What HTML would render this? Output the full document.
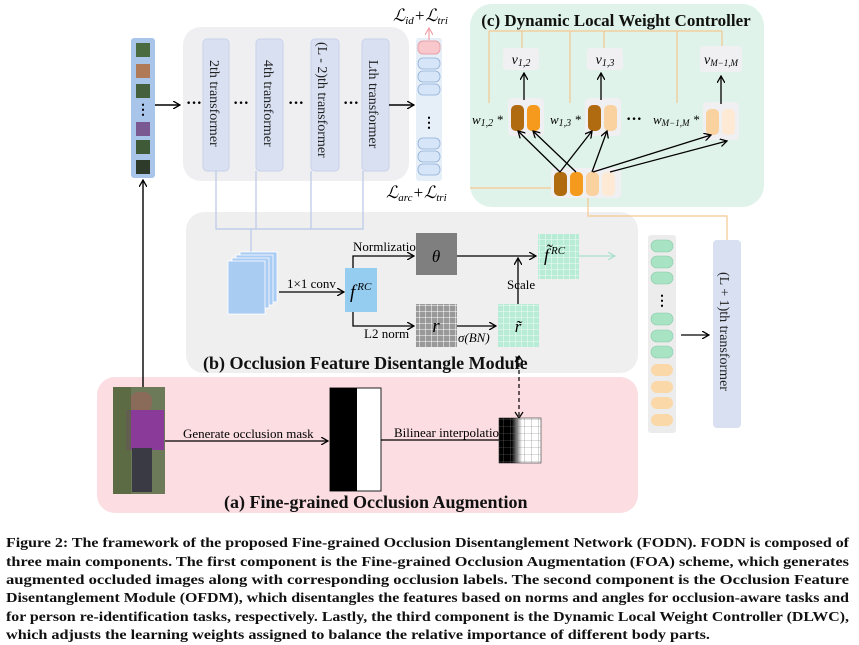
<!DOCTYPE html>
<html><head><meta charset="utf-8"><style>
html,body{margin:0;padding:0;background:#fff;width:859px;height:645px;overflow:hidden}
svg{display:block}
text{font-family:"Liberation Serif",serif}
.cap{font-weight:bold;font-size:13.5px;fill:#111}
.it{font-style:italic}
</style></head><body>
<svg width="859" height="645" viewBox="0 0 859 645" xmlns="http://www.w3.org/2000/svg">
<defs>
<marker id="a" markerWidth="8" markerHeight="8" refX="7" refY="4" orient="auto" markerUnits="userSpaceOnUse"><path d="M0,0 L7,4 L0,8" fill="none" stroke="#000" stroke-width="1.3"/></marker>
<marker id="ap" markerWidth="8" markerHeight="8" refX="7" refY="4" orient="auto" markerUnits="userSpaceOnUse"><path d="M0,0 L7,4 L0,8" fill="none" stroke="#f0a0a8" stroke-width="1.2"/></marker>
<marker id="ag" markerWidth="8" markerHeight="8" refX="7" refY="4" orient="auto" markerUnits="userSpaceOnUse"><path d="M0,0 L7,4 L0,8" fill="none" stroke="#a8e0cc" stroke-width="1.2"/></marker>
<pattern id="gg" width="6" height="6" patternUnits="userSpaceOnUse"><rect width="6" height="6" fill="#999"/><path d="M6,0V6M0,6H6" stroke="#fff" stroke-width="1"/></pattern>
<pattern id="gr" width="6" height="6" patternUnits="userSpaceOnUse"><rect width="6" height="6" fill="#b8ecd6"/><path d="M6,0V6M0,6H6" stroke="#fff" stroke-width="0.8"/></pattern>
<linearGradient id="bw" x1="0" x2="1"><stop offset="0" stop-color="#000"/><stop offset="0.3" stop-color="#000"/><stop offset="0.55" stop-color="#fff"/><stop offset="1" stop-color="#fff"/></linearGradient>
<pattern id="wg" width="7" height="7" patternUnits="userSpaceOnUse"><path d="M7,0V7M0,7H7" stroke="#777" stroke-width="0.6" fill="none"/></pattern>
</defs>

<rect x="470" y="4" width="294" height="203" rx="22" fill="#dff3ea"/>
<rect x="186" y="212" width="452" height="161" rx="18" fill="#efefef"/>
<rect x="97" y="377" width="541" height="136" rx="18" fill="#fbdde2"/>
<rect x="183" y="27" width="226" height="154" rx="18" fill="#efeff2"/>

<rect x="131" y="38" width="24" height="140" rx="3" fill="#a9c6ea"/>
<rect x="136" y="43" width="14" height="14" fill="#4a6a40"/>
<rect x="136" y="64" width="14" height="14" fill="#b07a58"/>
<rect x="136" y="84" width="14" height="14" fill="#44603c"/>
<text x="143" y="114" font-size="14" font-weight="bold" text-anchor="middle">⋮</text>
<rect x="136" y="122" width="14" height="14" fill="#7a5890"/>
<rect x="136" y="140" width="14" height="14" fill="#3e5a36"/>
<rect x="136" y="160" width="14" height="14" fill="#2e3a2a"/>
<line x1="143" y1="390" x2="143" y2="180" stroke="#000" stroke-width="1.4" marker-end="url(#a)"/>
<line x1="155" y1="105" x2="180" y2="105" stroke="#000" stroke-width="1.4" marker-end="url(#a)"/>

<g fill="#d8e0f2" stroke="#c8d2ea">
<rect x="203" y="39" width="26" height="132" rx="4"/>
<rect x="256" y="39" width="27" height="132" rx="4"/>
<rect x="311" y="39" width="28" height="132" rx="4"/>
<rect x="362" y="39" width="27" height="132" rx="4"/>
</g>
<g font-size="14" fill="#222">
<text transform="translate(210,60) rotate(90)">2th transformer</text>
<text transform="translate(264,60) rotate(90)">4th transformer</text>
<text transform="translate(318,42) rotate(90)">(L - 2)th transformer</text>
<text transform="translate(369,60) rotate(90)">Lth transformer</text>
</g>
<g font-size="16" font-weight="bold"><text x="186" y="108">···</text><text x="233" y="108">···</text><text x="288" y="108">···</text><text x="343" y="108">···</text></g>
<line x1="389" y1="105" x2="414" y2="105" stroke="#000" stroke-width="1.4" marker-end="url(#a)"/>
<g stroke="#b8c8e6" stroke-width="1.2" fill="none">
<path d="M216,171V229H363V171M256,171V229M311,229V171M251,229V252"/>
</g>

<rect x="416" y="38" width="26" height="143" rx="3" fill="#e6eef8"/>
<rect x="418" y="41" width="22" height="13" rx="5" fill="#f8c8cc" stroke="#e8a0a8"/>
<g fill="#d6e6f8" stroke="#8fb0d8" stroke-width="0.8">
<rect x="418" y="58" width="22" height="11" rx="5"/><rect x="418" y="71" width="22" height="11" rx="5"/><rect x="418" y="84" width="22" height="11" rx="5"/>
<rect x="418" y="138" width="22" height="11" rx="5"/><rect x="418" y="151" width="22" height="11" rx="5"/><rect x="418" y="164" width="22" height="11" rx="5"/>
</g>
<text x="429" y="127" font-size="14" font-weight="bold" text-anchor="middle">⋮</text>
<line x1="429" y1="40" x2="429" y2="28" stroke="#f0a0a8" stroke-width="1.2" marker-end="url(#ap)"/>
<text x="393" y="21" font-size="17" class="it">ℒ<tspan font-size="11" dy="3">id</tspan><tspan dy="-3">+ℒ</tspan><tspan font-size="11" dy="3">tri</tspan></text>
<text x="386" y="198" font-size="17" class="it">ℒ<tspan font-size="11" dy="3">arc</tspan><tspan dy="-3">+ℒ</tspan><tspan font-size="11" dy="3">tri</tspan></text>

<text x="616" y="26" font-size="17" font-weight="bold" text-anchor="middle" fill="#111">(c) Dynamic Local Weight Controller</text>
<g stroke="#f5c890" stroke-width="1.2" fill="none">
<path d="M489,31H722M489,31V103M522,31V48M570,31V103M604,31V48M677,31V103M722,31V48"/>
<path d="M552,188H470"/>
<path d="M588,196V216H727V240"/>
</g>
<g fill="#f0eff2">
<rect x="503" y="48" width="36" height="22" rx="3"/>
<rect x="587" y="48" width="36" height="22" rx="3"/>
<rect x="700" y="46" width="42" height="26" rx="3"/>
<rect x="508" y="98" width="36" height="38" rx="4"/>
<rect x="585" y="98" width="36" height="38" rx="4"/>
<rect x="703" y="102" width="36" height="38" rx="4"/>
<rect x="551" y="168" width="70" height="30" rx="4"/>
</g>
<g font-size="14" class="it" text-anchor="middle">
<text x="521" y="64">v<tspan font-size="10" dy="2">1,2</tspan></text>
<text x="605" y="64">v<tspan font-size="10" dy="2">1,3</tspan></text>
<text x="721" y="64">v<tspan font-size="9" dy="2">M−1,M</tspan></text>
</g>
<g font-size="13" class="it">
<text x="472" y="124">w<tspan font-size="10" dy="2">1,2</tspan><tspan dy="-2"> *</tspan></text>
<text x="550" y="124">w<tspan font-size="10" dy="2">1,3</tspan><tspan dy="-2"> *</tspan></text>
<text x="653" y="124">w<tspan font-size="9" dy="2">M−1,M</tspan><tspan dy="-2"> *</tspan></text>
</g>
<text x="626" y="124" font-size="16" font-weight="bold">···</text>
<g>
<rect x="511" y="105" width="13" height="26" rx="5" fill="#b06a10"/><rect x="527" y="105" width="13" height="26" rx="5" fill="#f59a1c"/>
<rect x="588" y="105" width="13" height="26" rx="5" fill="#b06a10"/><rect x="604" y="105" width="13" height="26" rx="5" fill="#fad2a0"/>
<rect x="706" y="109" width="13" height="26" rx="5" fill="#fad2a0"/><rect x="722" y="109" width="13" height="26" rx="5" fill="#fde9d4"/>
<rect x="554" y="172" width="13" height="24" rx="5" fill="#b06a10"/><rect x="570" y="172" width="13" height="24" rx="5" fill="#f59a1c"/><rect x="586" y="172" width="13" height="24" rx="5" fill="#fad2a0"/><rect x="602" y="172" width="13" height="24" rx="5" fill="#fde9d4"/>
</g>
<g stroke="#000" stroke-width="1.3" marker-end="url(#a)">
<line x1="524" y1="100" x2="524" y2="73"/><line x1="601" y1="100" x2="601" y2="73"/><line x1="721" y1="104" x2="721" y2="76"/>
<line x1="560" y1="172" x2="518" y2="131"/><line x1="576" y1="172" x2="533" y2="131"/>
<line x1="560" y1="172" x2="592" y2="131"/><line x1="592" y1="172" x2="607" y2="131"/>
<line x1="593" y1="172" x2="711" y2="135"/><line x1="610" y1="172" x2="727" y2="141"/>
</g>

<g fill="#a8ccf2" stroke="#fff" stroke-width="0.8">
<rect x="240" y="252" width="37" height="50"/><rect x="236" y="255" width="37" height="50"/><rect x="232" y="258" width="37" height="50"/><rect x="228" y="261" width="37" height="53"/>
</g>
<text x="287" y="288" font-size="13">1×1 conv</text>
<line x1="279" y1="292" x2="344" y2="292" stroke="#000" stroke-width="1.3" marker-end="url(#a)"/>
<rect x="345" y="268" width="32" height="44" fill="#94cdef"/>
<text x="350" y="298" font-size="19" class="it">f<tspan font-size="11" dy="-8" dx="2">RC</tspan></text>
<text x="353" y="251" font-size="13">Normlization</text>
<path d="M353,268V256H414" stroke="#000" stroke-width="1.3" fill="none" marker-end="url(#a)"/>
<path d="M353,312V326H414" stroke="#000" stroke-width="1.3" fill="none" marker-end="url(#a)"/>
<text x="364" y="338" font-size="13">L2 norm</text>
<rect x="416" y="233" width="41" height="42" fill="#7f7f7f"/>
<text x="436" y="262" font-size="17" class="it" text-anchor="middle">θ</text>
<rect x="416" y="304" width="41" height="43" fill="url(#gg)"/>
<text x="436" y="332" font-size="19" class="it" text-anchor="middle">r</text>
<line x1="457" y1="326" x2="496" y2="326" stroke="#000" stroke-width="1.3" marker-end="url(#a)"/>
<text x="458" y="342" font-size="13" class="it">σ(BN)</text>
<rect x="498" y="304" width="41" height="43" fill="url(#gr)"/>
<text x="518" y="332" font-size="17" class="it" text-anchor="middle">r̃</text>
<line x1="518" y1="304" x2="518" y2="258" stroke="#000" stroke-width="1.3" marker-end="url(#a)"/>
<line x1="457" y1="256" x2="536" y2="256" stroke="#000" stroke-width="1.3" marker-end="url(#a)"/>
<text x="507" y="289" font-size="13">Scale</text>
<rect x="538" y="234" width="41" height="45" fill="url(#gr)"/>
<text x="544" y="261" font-size="18" class="it">f̃<tspan font-size="11" dy="-7" dx="2">RC</tspan></text>
<line x1="579" y1="256" x2="615" y2="256" stroke="#a8e0cc" stroke-width="1.2" marker-end="url(#ag)"/>
<text x="203" y="369" font-size="18" font-weight="bold" fill="#111">(b) Occlusion Feature Disentangle Module</text>
<line x1="519" y1="356" x2="519" y2="418" stroke="#000" stroke-width="1.2" stroke-dasharray="4,3"/>
<path d="M515,362L519,356L523,362M515,412L519,418L523,412" stroke="#000" stroke-width="1.2" fill="none"/>

<rect x="648" y="235" width="28" height="198" rx="3" fill="#ececec"/>
<g fill="#a8e4c4" stroke="#88c8a8" stroke-width="0.6">
<rect x="651" y="240" width="22" height="12" rx="6"/><rect x="651" y="256" width="22" height="12" rx="6"/><rect x="651" y="272" width="22" height="12" rx="6"/>
<rect x="651" y="313" width="22" height="12" rx="6"/><rect x="651" y="330" width="22" height="12" rx="6"/><rect x="651" y="346" width="22" height="12" rx="6"/>
</g>
<g fill="#fbd8a8"><rect x="651" y="364" width="22" height="12" rx="6"/><rect x="651" y="381" width="22" height="12" rx="6"/><rect x="651" y="397" width="22" height="12" rx="6"/><rect x="651" y="414" width="22" height="12" rx="6"/></g>
<text x="662" y="305" font-size="14" font-weight="bold" text-anchor="middle">⋮</text>
<line x1="681" y1="335" x2="709" y2="335" stroke="#000" stroke-width="1.3" marker-end="url(#a)"/>
<rect x="713" y="240" width="28" height="188" rx="4" fill="#d8e0f2"/>
<text transform="translate(720,272) rotate(90)" font-size="14" fill="#222">(L + 1)th transformer</text>

<rect x="113" y="387" width="52" height="107" fill="#6d7a5a"/>
<rect x="130" y="392" width="22" height="20" rx="8" fill="#8a6a58"/>
<rect x="126" y="410" width="38" height="40" fill="#8a3a98"/>
<rect x="132" y="448" width="20" height="44" fill="#3a3a44"/>
<rect x="113" y="387" width="18" height="107" fill="#58683e" opacity="0.8"/>
<line x1="165" y1="441" x2="328" y2="441" stroke="#000" stroke-width="1.3" marker-end="url(#a)"/>
<text x="183" y="438" font-size="13">Generate occlusion mask</text>
<rect x="330" y="388" width="51" height="103" fill="#fff" stroke="#222"/>
<rect x="330" y="388" width="27" height="103" fill="#000"/>
<line x1="381" y1="440" x2="518" y2="440" stroke="#000" stroke-width="1.3" marker-end="url(#a)"/>
<text x="394" y="437" font-size="13">Bilinear interpolation</text>
<rect x="499" y="418" width="42" height="45" fill="url(#bw)" stroke="#333" stroke-width="0.6"/>
<rect x="499" y="418" width="42" height="45" fill="url(#wg)"/>
<text x="224" y="508" font-size="18" font-weight="bold" fill="#111">(a) Fine-grained Occlusion Augmention</text>

<g class="cap">
<text x="6" y="547" textLength="843" lengthAdjust="spacingAndGlyphs">Figure 2: The framework of the proposed Fine-grained Occlusion Disentanglement Network (FODN). FODN is composed of</text>
<text x="6" y="566" textLength="843" lengthAdjust="spacingAndGlyphs">three main components. The first component is the Fine-grained Occlusion Augmentation (FOA) scheme, which generates</text>
<text x="6" y="584" textLength="843" lengthAdjust="spacingAndGlyphs">augmented occluded images along with corresponding occlusion labels. The second component is the Occlusion Feature</text>
<text x="6" y="602" textLength="843" lengthAdjust="spacingAndGlyphs">Disentanglement Module (OFDM), which disentangles the features based on norms and angles for occlusion-aware tasks and</text>
<text x="6" y="621" textLength="843" lengthAdjust="spacingAndGlyphs">for person re-identification tasks, respectively. Lastly, the third component is the Dynamic Local Weight Controller (DLWC),</text>
<text x="6" y="639" textLength="704" lengthAdjust="spacingAndGlyphs">which adjusts the learning weights assigned to balance the relative importance of different body parts.</text>
</g>
</svg>
</body></html>
